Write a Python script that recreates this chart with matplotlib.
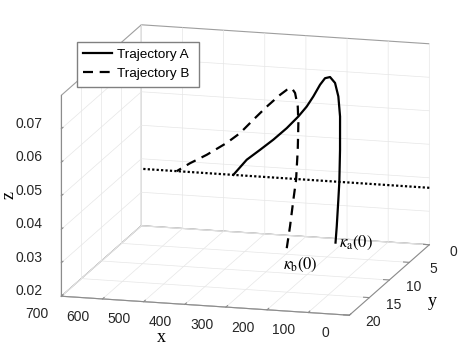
import numpy as np
import matplotlib
matplotlib.use('Agg')
import matplotlib.pyplot as plt
from matplotlib.ticker import NullFormatter
from mpl_toolkits.mplot3d import proj3d

# Trajectory A (solid line)
xa = [130.8, 132.7, 133.7, 136.1, 139.3, 144.1, 153.1, 166.0, 183.0, 199.1,
      215.1, 236.3, 257.2, 282.4, 317.4, 356.8, 396.9, 436.0, 476.4]
ya = [10, 9.5, 9, 8.5, 8, 7.5, 7, 6.5, 6, 5.6, 5.2, 4.7, 4.2, 3.7, 3, 2.3, 1.5, 0.8, 0]
za = [0.0301, 0.0344, 0.0418, 0.0467, 0.0556, 0.0650, 0.0704, 0.0738, 0.0749, 0.0740,
      0.0715, 0.0673, 0.0636, 0.0599, 0.0554, 0.0509, 0.0467, 0.0427, 0.0370]

# Trajectory B (dashed line)
xb = [210.5, 209.3, 208.0, 207.3, 210.0, 215.3, 222.6, 235.0, 248.9, 266.9,
      289.0, 331.0, 373.3, 415.4, 456.5, 516.7, 569.0, 614.0]
yb = [14, 13.3, 12.6, 12, 11.3, 10.6, 10, 9.4, 8.8, 8.2, 7.6, 6.6, 5.6, 4.6, 3.7, 2.5, 1.3, 0]
zb = [0.0320, 0.0378, 0.0450, 0.0503, 0.0585, 0.0657, 0.0700, 0.0733, 0.0740, 0.0727,
      0.0704, 0.0655, 0.0602, 0.0548, 0.0506, 0.0453, 0.0411, 0.0370]

# dotted reference line
x_ref = [0, 700]
y_ref = [0, 0]
z_ref = [0.037, 0.037]

x_ticks = [0, 100, 200, 300, 400, 500, 600, 700]
y_ticks = [0, 5, 10, 15, 20]
z_ticks = [0.02, 0.03, 0.04, 0.05, 0.06, 0.07]

W, H = 474, 355
tick_color = '#262626'
plt.rcParams['font.family'] = ['Liberation Sans', 'DejaVu Sans']
plt.rcParams['mathtext.fontset'] = 'stix'

fig = plt.figure(figsize=(W / 100, H / 100), dpi=100)
ax = fig.add_axes([0.1, 0.1, 0.8 * H / W, 0.8], projection='3d', proj_type='ortho')
ax.view_init(elev=13.95, azim=105.3)
ax.set_box_aspect((298.6, 303.1, 207.1))
ax.set_xlim(0, 700)
ax.set_ylim(0, 20)
ax.set_zlim(0.02, 0.08)
ax.set_xticks(x_ticks)
ax.set_yticks(y_ticks)
ax.set_zticks(z_ticks)
ax.zaxis.set_ticks_position('upper')

for axis in (ax.xaxis, ax.yaxis, ax.zaxis):
    axis.set_major_formatter(NullFormatter())
    axis.label.set_visible(False)
    axis.offsetText.set_visible(False)
    axis.set_pane_color((1, 1, 1, 1))
    axis.pane.set_edgecolor('0.62')
    axis.pane.set_linewidth(0.8)
    axis.line.set_color('0.55')
    axis.line.set_linewidth(0.8)
    axis._axinfo['grid']['color'] = '0.9'
    axis._axinfo['grid']['linewidth'] = 0.5
    axis._axinfo['tick']['inward_factor'] = 0.0
    axis._axinfo['tick']['outward_factor'] = 0.25
ax.tick_params(axis='both', color='0.55')
ax.tick_params(axis='z', color='0.55')

la, = ax.plot(xa, ya, za, color='black', lw=1.6, label='Trajectory A')
lb, = ax.plot(xb, yb, zb, color='black', lw=1.6, linestyle=(0, (4.5, 3)), label='Trajectory B')
ax.plot(x_ref, y_ref, z_ref, color='black', lw=1.6, linestyle=(0, (1, 1)))

# axis labels in serif as in the original
fig.text(161 / W, 1 - 338 / H, 'x', family='Liberation Serif', fontsize=13, ha='center', va='center')
fig.text(432 / W, 1 - 301 / H, 'y', family='Liberation Serif', fontsize=13, ha='center', va='center')
fig.text(9 / W, 1 - 195 / H, 'z', family='Liberation Serif', fontsize=13, ha='center', va='center', rotation=90)

# move the axes so the box lands where it is in the original
fig.canvas.draw()
def to_px(x, y, z):
    xs, ys, _ = proj3d.proj_transform(x, y, z, ax.get_proj())
    return ax.transData.transform((xs, ys))

p1 = to_px(700, 20, 0.02)
p2 = to_px(0, 0, 0.08)
t1 = np.array([61.7, H - 296.7])
t2 = np.array([429.0, H - 43.3])
s = np.linalg.norm(t2 - t1) / np.linalg.norm(p2 - p1)
bb = ax.get_position()
c = np.array([(bb.x0 + bb.x1) / 2 * W, (bb.y0 + bb.y1) / 2 * H])
L = bb.width * W
c_new = (t1 + t2) / 2 - s * ((p1 + p2) / 2 - c)
L_new = s * L
ax.set_position([(c_new[0] - L_new / 2) / W, (c_new[1] - L_new / 2) / H, L_new / W, L_new / H])


def label3d(x, y, z, s, **kw):
    # put a 2D text at the projected place of a 3D point
    xs, ys, _ = proj3d.proj_transform(x, y, z, ax.get_proj())
    ax.text2D(xs, ys, s, transform=ax.transData, **kw)


# tick labels placed like the MATLAB ones
for v in x_ticks:
    label3d(v, 26.1, 0.0211, str(v), ha='center', va='center', fontsize=10, color=tick_color)
for v in y_ticks:
    label3d(-58, v, 0.0184, str(v), ha='center', va='center', fontsize=10, color=tick_color)
for v in z_ticks:
    label3d(745, 20, v + 0.0011, '%.2f' % v, ha='right', va='center', fontsize=10, color=tick_color)

label3d(xa[0] - 8, ya[0], za[0], r'$\kappa_{\rm a}(0)$', fontsize=12, ha='left', va='center')
label3d(xb[0] + 9, yb[0], zb[0] - 0.005, r'$\kappa_{\rm b}(0)$', fontsize=12, ha='left', va='center')

ax.legend(handles=[la, lb], loc='upper left', mode='expand',
          bbox_to_anchor=(76.7 / W, 1 - 86.7 / H, 122.6 / W, 45 / H), bbox_transform=fig.transFigure,
          borderaxespad=0, fancybox=False, framealpha=1, edgecolor='0.5', fontsize=9.7,
          handlelength=2.1, handletextpad=0.4, borderpad=0.5, labelspacing=0.5)

fig.savefig('out.png', dpi=100)
